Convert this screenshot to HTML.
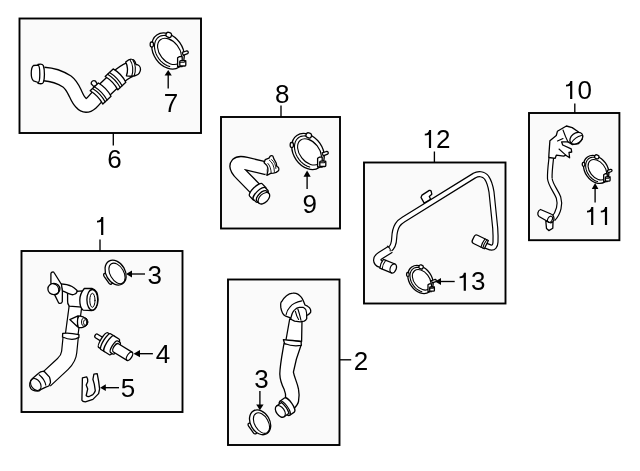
<!DOCTYPE html>
<html><head><meta charset="utf-8"><style>
html,body{margin:0;padding:0;background:#fff;width:640px;height:471px;overflow:hidden}
svg{display:block;will-change:transform}
text{font-family:"Liberation Sans",sans-serif;font-size:26px;fill:#000}
.bx{fill:#fafafa;stroke:#000;stroke-width:1.9}
.ln{stroke:#000;stroke-width:1.35;fill:none}
.ar{fill:#000}
.p{fill:#fff;stroke:#000;stroke-width:1.3;stroke-linejoin:round;stroke-linecap:round;vector-effect:non-scaling-stroke}
.q{fill:none;stroke:#000;stroke-width:1.1;stroke-linejoin:round;stroke-linecap:round;vector-effect:non-scaling-stroke}
.tb{fill:none;stroke:#000;stroke-linejoin:round}
.tw{fill:none;stroke:#fff;stroke-linejoin:round}
</style></head><body>
<svg width="640" height="471" viewBox="0 0 640 471">
<defs>
<path id="one" d="M0,3.7 C2.6,3.6 4,2.4 4.3,0 L6.3,0 L6.3,18 L4.1,18 L4.1,4.7 C3,5.2 1.6,5.5 0,5.5 Z"/>
<g id="clamp">
  <ellipse class="p" cx="0" cy="0" rx="19.5" ry="14.4" transform="rotate(55)"/>
  <ellipse class="q" cx="1.5" cy="0.4" rx="14.8" ry="9.8" transform="rotate(52 1.5 0.4)"/>
  <path class="q" d="M1.72,15.59 L-0.62,14.77 L-2.93,13.55 L-5.14,11.96 L-7.19,10.05 L-9.03,7.87 L-10.61,5.48 L-11.88,2.94 L-12.81,0.33 L-13.36,-2.29 L-13.54,-4.83 L-13.33,-7.24 L-12.74,-9.44 L-11.78,-11.38 L-10.48,-13.01 L-8.87,-14.27 L-7.01,-15.13 L-4.94,-15.57 L-2.72,-15.58 L-0.40,-15.16 L1.94,-14.31"/>
  <rect class="p" x="-2" y="-18.5" width="5.5" height="4.8" rx="2" transform="rotate(20 0.75 -16.1)"/>
  <rect class="p" x="-17.8" y="-9" width="3.2" height="5" rx="1.5"/>
  <path class="p" d="M14.2,1.4 L18.4,0 A1.5,1.5 0 0 1 19.6,2.7 L15.2,4.4 Z"/>
  <path class="p" d="M9.6,15.5 L9.6,6.8 L11.5,5.6 L14.2,5.6 L14.2,15.5 Z"/>
  <rect class="p" x="11.8" y="9.6" width="6" height="5.4" rx="1"/>
  <path class="q" d="M11.8,11.3 L16,11.3 L17.8,9.6"/>
</g>
<g id="ring3">
  <path class="p" d="M-11.8,1.2 C-12.2,2 -12,3 -11.5,3.8 L-6.5,10.8 C-6,11.5 -5,11.8 -4.2,11.5 L-3,10.5 L-10,0.5 Z"/>
  <ellipse class="p" cx="0" cy="0" rx="13.2" ry="9.6" transform="rotate(60)"/>
  <ellipse class="q" cx="1.4" cy="0.8" rx="11.2" ry="6.8" transform="rotate(60 1.4 0.8)"/>
</g>
</defs>
<!-- boxes -->
<rect class="bx" x="19.5" y="18.5" width="181.5" height="114.5"/>
<rect class="bx" x="221" y="117" width="119" height="111.5"/>
<rect class="bx" x="364" y="162.5" width="141.5" height="141"/>
<rect class="bx" x="529" y="113" width="90.4" height="127.2"/>
<rect class="bx" x="21.5" y="251" width="161" height="161"/>
<rect class="bx" x="228" y="279.5" width="111.5" height="165.5"/>
<!-- stems -->
<line class="ln" x1="113.3" y1="133" x2="113.3" y2="145.5"/>
<line class="ln" x1="281" y1="105.5" x2="281" y2="117"/>
<line class="ln" x1="434.4" y1="151.5" x2="434.4" y2="162.5"/>
<line class="ln" x1="574.8" y1="103.5" x2="574.8" y2="113"/>
<line class="ln" x1="100" y1="239.5" x2="100" y2="251"/>
<line class="ln" x1="339.5" y1="359.8" x2="351.2" y2="359.8"/>
<!-- arrows -->
<line class="ln" x1="168.2" y1="74" x2="168.2" y2="88.6"/><path class="ar" d="M168.2 69.9 L164.6 75.6 L171.8 75.6Z"/>
<line class="ln" x1="307.1" y1="175" x2="307.1" y2="188.9"/><path class="ar" d="M307.1 170.5 L303.5 176.8 L310.7 176.8Z"/>
<line class="ln" x1="595.1" y1="188" x2="595.1" y2="202.5"/><path class="ar" d="M595.1 183.1 L591.8 189 L598.4 189Z"/>
<line class="ln" x1="440" y1="281.5" x2="454.7" y2="281.5"/><path class="ar" d="M435 281.5 L441 277.9 L441 285.1Z"/>
<line class="ln" x1="131" y1="274" x2="145" y2="274"/><path class="ar" d="M126 274 L132 270.4 L132 277.6Z"/>
<line class="ln" x1="139" y1="353.7" x2="152.9" y2="353.7"/><path class="ar" d="M133.5 353.7 L140 350.1 L140 357.3Z"/>
<line class="ln" x1="105" y1="387.7" x2="119" y2="387.7"/><path class="ar" d="M100.1 387.7 L105.8 384.3 L105.8 391.1Z"/>
<line class="ln" x1="259.9" y1="391.1" x2="259.9" y2="405"/><path class="ar" d="M259.9 410.2 L256.2 404.6 L263.6 404.6Z"/>
<!-- part 6 hose -->
<g id="p6">
  <path class="tb" stroke-width="14.8" d="M44,74 C52,74.5 60,77 67,81.5 C71,84.5 73,88.5 75,92.7 C77,97 78.5,100.5 80.7,102.4 C82.5,104.5 84,105.5 86,105.5 C90,105.5 93.5,101 96.5,97.4 L116,79 C121,74.5 125,71.5 131,69"/>
  <path class="tw" stroke-width="12.2" d="M44,74 C52,74.5 60,77 67,81.5 C71,84.5 73,88.5 75,92.7 C77,97 78.5,100.5 80.7,102.4 C82.5,104.5 84,105.5 86,105.5 C90,105.5 93.5,101 96.5,97.4 L116,79 C121,74.5 125,71.5 131,69"/>
  <path class="p" d="M38,64.5 C40.5,63.8 42.5,64 43.3,65.5 C44.8,70 44.8,79 43.3,82.5 C42.5,84 40.5,84 38,83.3 Z"/>
  <path class="p" d="M33.5,65.5 L38.3,65.2 C40.3,66.5 40.3,81.5 38.3,82.5 L33.5,80.8 C30.5,78.5 30.5,68 33.5,65.5 Z"/>
  <path class="tb" stroke-width="16.4" d="M98,96 L116,79 C121,74.5 125,71.5 130,69.5"/>
  <path class="tw" stroke-width="13.8" d="M96.5,97.4 L116,79 C121,74.5 125,71.5 131,69"/>
  <g transform="translate(96.5,97.4) rotate(-43.5)">
    <path class="p" d="M5.5,-10 L5.5,-13.5 A2.8,2.8 0 0 1 10.5,-12.5 L9.5,-8 Z"/>
    <path class="p" d="M0,-9.2 L11.3,-9.2 Q14,0 11.3,9.2 L0,9.2 Q2.5,0 0,-9.2 Z"/>
    <path class="q" d="M3.2,-9.2 Q5.7,0 3.2,9.2 M5.8,-9.2 Q8.3,0 5.8,9.2"/>
    <path class="p" d="M20.7,-9.2 L31.7,-9.2 Q34.4,0 31.7,9.2 L20.7,9.2 Q23.2,0 20.7,-9.2 Z"/>
    <path class="q" d="M24,-9.2 Q26.5,0 24,9.2 M26.6,-9.2 Q29.1,0 26.6,9.2"/>
  </g>
  <path class="p" d="M125.7,62.1 C128,60 130,59 131.5,59.2 C133.5,59.3 135,60.5 136,64.5 C138.5,64.5 140.5,66.5 140.5,69.3 C140.5,72 138.5,74.8 136.5,75.1 C134,76.5 131,76.6 126.4,75.8 C128,72 128,66 125.7,62.1 Z"/>
  <path class="q" d="M130.3,60.5 C133,64 133.5,71 131.8,76 M132.9,60.2 C135.8,64 136,71 134.2,75.5"/>
</g>
<g id="p8">
  <path class="tb" stroke-width="13.8" d="M257.5,191 L241.8,175 C236.5,169.8 234.8,166.5 237.2,163.8 C239.2,161.9 242.5,162.6 246,163.5 L267,168.5"/>
  <path class="tw" stroke-width="11.2" d="M257.5,191 L241.8,175 C236.5,169.8 234.8,166.5 237.2,163.8 C239.2,161.9 242.5,162.6 246,163.5 L267,168.5"/>
    <path class="p" d="M264.1,162.8 L265.2,159.7 L269,158.1 L270.2,156.2 C270.8,155.5 272.3,155.5 272.9,156.1 L274,159.2 L276.2,163 L276.8,166.3 L278.2,167.2 C279,168 279,170 278.4,170.8 L276.2,172.4 L273.4,173.2 L270.7,173.4 L266.8,175.3 C268.6,171 268.6,166 264.1,162.8 Z"/>
  <path class="q" style="stroke-width:0.9" d="M267.9,163.4 C270,165.5 271,169 271.2,173 M269.4,160.2 C272.5,162.5 274.2,166 274.4,171.5 M271.6,159.6 C274.5,162 275.8,165 275.9,168.5"/>
  <g transform="translate(260.8,195) rotate(46)">
    <path class="p" d="M-7,-8.8 L-2,-8.8 A3,8.8 0 0 1 -2,8.8 L-7,8.8 A3,8.8 0 0 1 -7,-8.8 Z"/>
    <path class="p" d="M-2,-8.3 L1.5,-8.3 A3.3,8.3 0 0 1 1.5,8.3 L-2,8.3 A3,8.3 0 0 1 -2,-8.3 Z"/>
    <path class="p" d="M1.5,-7 L4.5,-7 A4.2,7 0 0 1 4.5,7 L1.5,7 A3.3,7 0 0 1 1.5,-7 Z"/>
    <path class="q" d="M4.5,-7 A4.2,7 0 0 0 4.5,7"/>
  </g>
</g>
<g id="p10">
  <path class="tb" stroke-width="5.8" d="M551.5,156 C550.5,165 549.5,172 549.8,178.5 C550.5,185 556,191 558.5,197.5 C560.5,204 559,212.5 553,219"/>
  <path class="tw" stroke-width="3.4" d="M551.5,156 C550.5,165 549.5,172 549.8,178.5 C550.5,185 556,191 558.5,197.5 C560.5,204 559,212.5 553,219"/>
  <path class="p" d="M548.9,154.6 L549.9,140.8 L556.3,135.5 L557.4,131.3 L566.4,126 L572.2,127.6 L577.5,131.3 L580.7,133.9 L582.3,139.2 L578.6,143.5 L572.2,144.5 L568,141.9 L561.6,141.9 L562.7,145 L571.2,148.8 L571.7,152 L569,152.5 L569.6,157.8 L565.8,155.2 L563.7,156.2 L556.3,155.2 L555.2,158.3 L548.9,157.5 Z"/>
  <path class="q" d="M563,130 L565.5,136.5 L568,141.9 M557.5,141 L563,138.5 M559,149 L565.8,155.2"/>
  <ellipse class="p" cx="576.3" cy="138.3" rx="7.2" ry="5" transform="rotate(-38 576.3 138.3)"/>
  <path class="q" d="M571.5,142.8 C573.5,139.5 577.5,136.5 581.5,135.5"/>
  <path class="p" d="M545.8,221 L546.5,228.5 L548.8,230.6 L552.8,228.2 L553,222 Z"/>
  <path class="p" d="M540.5,209.5 C537.5,210.5 537,215 539,216.5 L549.5,222.5 C551.5,223.5 554,221.5 554,219 C554,216 552.5,214.5 551,214 Z"/>
  <ellipse class="q" cx="550" cy="219.3" rx="2.2" ry="3.4" transform="rotate(30 550 219.3)"/>
</g>
<g id="p12">
  <path class="p" d="M424.2,203.1 L421,197.4 L422,195.1 L429.3,190.4 C430.3,190.2 431,190.7 431.2,191.3 L431.8,194.2 L429.3,196.4 L430.6,199.3 Z"/>
  <path class="tb" stroke-width="6.2" d="M389.5,249.5 C392.5,247.5 394,244 394.2,238 C394.5,232 395,229 397.5,225 C399,222.5 401,221 403.5,219.5 L474.5,175.5 C478,173.5 483.5,173.5 486.5,177.5 C489,181 490.5,186 491.5,192 L495.2,228 C495.6,234 495.7,238 495.5,242 C495.3,246.5 493.5,248 490.5,247.5 L484,245"/>
  <path class="tw" stroke-width="3.8" d="M389.5,249.5 C392.5,247.5 394,244 394.2,238 C394.5,232 395,229 397.5,225 C399,222.5 401,221 403.5,219.5 L474.5,175.5 C478,173.5 483.5,173.5 486.5,177.5 C489,181 490.5,186 491.5,192 L495.2,228 C495.6,234 495.7,238 495.5,242 C495.3,246.5 493.5,248 490.5,247.5 L484,245"/>
  <path class="tb" stroke-width="8.4" d="M390.5,249.2 L380.5,255.5 C376,258.3 376,262.5 381,264"/>
  <path class="tw" stroke-width="6" d="M390.5,249.2 L380.5,255.5 C376,258.3 376,262.5 381,264"/>
  <path class="q" d="M387.4,246.1 C389.5,247.5 390.5,249 390.2,250.9"/>
  <g transform="translate(387.2,266) rotate(22)">
    <path class="p" d="M-6,-4.8 L6.5,-4.8 A3,4.8 0 0 1 6.5,4.8 L-6,4.8 Q-7.5,0 -6,-4.8 Z"/>
    <path class="q" d="M6.5,-4.8 A3,4.8 0 0 0 6.5,4.8 M-3.5,-4.8 Q-5,0 -3.5,4.8"/>
  </g>
  <g transform="translate(480.5,241.8) rotate(26)">
    <path class="p" d="M-5.5,-4.6 L6.5,-4.6 L6.5,4.6 L-5.5,4.6 Q-8,4.6 -8,2 L-8,-2 Q-8,-4.6 -5.5,-4.6 Z"/>
    <path class="q" d="M2.8,-4.6 Q1.8,0 2.8,4.6 M4.8,-4.6 Q3.8,0 4.8,4.6"/>
  </g>
</g>
<g id="p1">
  <path class="tb" stroke-width="16.4" d="M71,334 L69.2,352 C68.8,356.5 66.8,360 63,363.8 L45,380.5"/>
  <path class="tw" stroke-width="14" d="M71,334 L69.2,352 C68.8,356.5 66.8,360 63,363.8 L45,380.5"/>
  <path class="tb" stroke-width="13.8" d="M75.5,306 L71.5,336"/>
  <path class="tw" stroke-width="11.4" d="M75.5,306 L71.5,336"/>
  <path class="p" d="M62.7,333.4 C68,332.5 74,333.5 78.9,334.6 L78.9,337.4 C74,340.5 68,339.5 62.5,337 Z"/>
  <path class="p" d="M37.7,374.1 L38.4,373.4 C40,371.8 42.5,371 44.3,371.5 L49.5,377.1 C50.5,380 50.6,383 50.3,383 L48.8,386 L45.8,387.1 L40.6,389.7 C39.5,390.8 38.5,391.2 37.7,391.2 C34,391 31.5,390 30.5,388 C29,385 29.5,381 32.5,378.6 Z"/>
  <path class="q" d="M39.1,374.8 C42.5,377.5 45,381 45.8,385.2"/>
  <ellipse class="q" cx="35.8" cy="384.5" rx="4.6" ry="6.5" transform="rotate(-35 35.8 384.5)"/>
  <path class="p" d="M69.8,319.6 L78,315.8 L77.5,326.7 Z"/>
  <path class="p" d="M78.9,315.8 C80.5,316 82.2,316.5 83.7,317.2 C85.3,318.2 86.5,319.3 87,320.6 C87.6,321.5 87.6,322.3 87.5,322.9 C87.2,324 86.5,325 85.6,325.8 C84.5,326.8 83.2,327.4 81.8,327.7 L78.4,327.7 C77.3,324.5 77.3,319 78.9,315.8 Z"/>
  <ellipse class="q" cx="84.65" cy="322" rx="3.1" ry="4.2" style="stroke-width:1"/>
  <ellipse class="q" cx="85.2" cy="322.5" rx="1.7" ry="2.8" style="stroke-width:0.9"/>
  <path class="p" d="M67.6,292 L82.9,290.9 L82,307.2 L69.3,306.1 C67.8,304.5 67.4,302.8 67.6,301 Z"/>
  <path class="p" d="M60.3,283.8 C64,283.8 68.5,284.5 72,286.5 C74.5,288 76,289.5 77,290.4 C77.2,292 76.5,293.3 75.3,293.8 C74,294.6 73,294.9 71.9,294.7 C69.5,294 66,292.5 62.5,290.9 Z"/>
  <path class="p" d="M52.6,272 C53.3,271.8 54,272.2 54.3,273 L61.5,284.5 L62.4,291.5 L62.3,301.7 C62,302.8 61,303.6 59.5,303.4 C58.8,303.2 58.4,302.6 58.2,302 L54.7,294.9 L50.9,283 L50.9,273.6 C51,272.8 51.8,272.1 52.6,272 Z"/>
  <ellipse class="p" cx="53.9" cy="289" rx="6" ry="5.6"/>
  <path class="q" d="M53,283.6 C57,284 59.5,287.5 58.5,292 C58,293.5 57,294.3 55.8,294.6"/>
  <path class="p" d="M84.3,288.5 L91.9,288.5 C95.5,289.5 98,293.5 98,299.5 C98,305.5 95.5,310 91.9,310.7 L83,310.1 C81,308.5 79.8,304.5 79.8,299.9 C79.8,295.5 81,292.5 84.3,288.5 Z"/>
  <ellipse class="p" cx="92.3" cy="299.8" rx="5.4" ry="10.3"/>
  <ellipse class="q" cx="92.4" cy="300.3" rx="2.6" ry="7" style="stroke-width:1"/>
  
</g>
<g id="p4" transform="translate(112.5,345.8) rotate(31.5)">
  <path class="p" d="M-18.8,-2.1 L-9,-2.1 A1.5,2.1 0 0 1 -9,2.1 L-18.8,2.1 A1.5,2.1 0 0 1 -18.8,-2.1 Z"/>
  <path class="p" d="M-11,-8.6 L-8,-8.6 A2.2,8.6 0 0 1 -8,8.6 L-11,8.6 A2.2,8.6 0 0 1 -11,-8.6 Z"/>
  <path class="p" d="M-8,-9.2 L-4,-9.2 A2.4,9.2 0 0 1 -4,9.2 L-8,9.2 A2.4,9.2 0 0 1 -8,-9.2 Z"/>
  <path class="p" d="M-4,-9.2 L2,-9.2 A2.6,9.2 0 0 1 2,9.2 L-4,9.2 A2.6,9.2 0 0 1 -4,-9.2 Z"/>
  <path class="p" d="M2,-6.8 L4.5,-6.8 A2.2,6.8 0 0 1 4.5,6.8 L2,6.8 A2.2,6.8 0 0 1 2,-6.8 Z"/>
  <path class="p" d="M4,-4.8 L20,-4.8 A2.3,4.8 0 0 1 20,4.8 L4,4.8 A2.3,4.8 0 0 1 4,-4.8 Z"/>
  <path class="q" d="M20,-4.8 A2.3,4.8 0 0 0 20,4.8"/>
</g>
<path class="p" d="M82.4,377.9 L86.7,376.9 C87.5,378 87.8,380 87.7,381.7 L86.2,385 L87.7,388.9 L86.2,395.5 C87,396.5 88,396.8 89.1,396.5 L92.9,394.6 C94,393.5 94.8,392.5 95.3,390.8 L94.3,384.1 L92.9,379.3 L93.9,374.1 L97.2,373.6 L98.6,381.2 L99.6,388.9 L98.6,393.6 L92.9,399.4 L85.3,401.8 C83.5,401.8 82.3,401.2 81.9,400.3 Z"/>
<g id="p2">
  <path class="p" d="M289.7,319 L285.9,340.5 L301.6,341.5 L302,320 Z"/>
  <path class="p" d="M284,343.5 C282,355 280,365 279.8,373.9 C280,380 282,385 284.1,389.2 C285.5,392.5 286.2,395.5 285.6,399 L293.8,408.7 C296.5,406 298,404 298.5,401.5 C299.5,396 299.3,393 298.5,389.2 C297.5,383 294.5,378 293.4,372.2 C295,363 298,353 301.2,344.7 Z"/>
  <path class="p" d="M283.4,339.7 C289,340.3 295,340.6 301.2,341.6 L301.2,345.4 C295,346.5 289.5,345.6 284.6,343.5 Z"/>
  <g transform="translate(287.3,406.5) rotate(-35)">
    <path class="p" d="M-3,-8.6 L2.5,-8.6 A3,8.6 0 0 1 2.5,8.6 L-3,8.6 A3,8.6 0 0 1 -3,-8.6 Z"/>
    <path class="q" d="M-3,-8.6 A3,8.6 0 0 1 -3,8.6"/>
    <path class="p" d="M-8.5,-6.6 L-2.5,-6.6 Q-0.5,0 -2.5,6.6 L-8.5,6.6 A4,6.6 0 0 1 -8.5,-6.6 Z"/>
    <path class="q" d="M-8.5,-6.6 A4,6.6 0 0 1 -8.5,6.6"/>
  </g>
  <path class="p" d="M280.8,307.4 C280.5,304 281,302 281.6,301.7 C283,299 284.5,297.3 286.5,295.7 C288.5,294 290.5,293.3 292.9,293.2 C295,293 296.5,293.4 297.8,294.1 C299,294.8 300,295.8 301,296.9 C302,298 302.8,299.5 303.4,300.9 L305,305 L307.5,306.2 C309,307 310,308 310.3,309 C310.8,310 310.8,311.2 310.7,312.2 C310,313.3 309.2,314 308.3,314.6 L306.7,315.4 L306.7,318.7 C306,320 305,320.8 304.2,321.1 L300.2,321.9 L294.6,321.1 L291.3,319.5 L290.5,317.9 L285.7,316.2 C284,315.3 283,314.2 282.5,313 C281.5,311 281,309 280.8,307.4 Z"/>
  <path class="q" d="M286.1,314.6 C287,311 288,309 289.7,307.4 C291,305.5 292.8,304 294.6,303.3 C297,302 299.5,301.3 301.8,300.9"/>
  <path class="q" d="M290.9,317.9 C291.5,314 292.8,311.5 294.6,309.8 C296,308.3 297.8,307.5 299.4,307.4 L303.4,307.4 C304.5,308 305.3,308.8 305.9,309.8 C306.5,312 306.8,314 306.7,315.4"/>
  <path class="q" d="M295.4,311.4 C296,314 297,317 298.6,319.5 M297.8,309 C299,312 300,316 301,320.3"/>
</g>
<!-- clamps -->
<use href="#clamp" transform="translate(168,51)"/>
<use href="#clamp" transform="translate(308,151.5)"/>
<use href="#clamp" transform="translate(596.2,169.4) scale(0.78)"/>
<use href="#clamp" transform="translate(420.5,279.5) scale(0.78)"/>
<use href="#ring3" transform="translate(115.6,272.6)"/>
<use href="#ring3" transform="translate(260.1,422.3)"/>
<!-- labels -->
<text x="107.2" y="168">6</text>
<text x="163.8" y="111.7">7</text>
<text x="274.9" y="102.9">8</text>
<text x="302.6" y="212.5">9</text>
<use href="#one" transform="translate(566,81)"/><text x="577.4" y="99.3">0</text>
<use href="#one" transform="translate(587,207)"/><use href="#one" transform="translate(600.8,207)"/>
<use href="#one" transform="translate(424.8,130)"/><text x="436" y="147.7">2</text>
<use href="#one" transform="translate(459.6,272.7)"/><text x="471.1" y="290.4">3</text>
<use href="#one" transform="translate(97,217)"/>
<text x="147.4" y="283.8">3</text>
<text x="155.7" y="362.5">4</text>
<text x="120.8" y="396.6">5</text>
<text x="353.8" y="369.5">2</text>
<text x="254.3" y="387.5">3</text>
</svg>
</body></html>
